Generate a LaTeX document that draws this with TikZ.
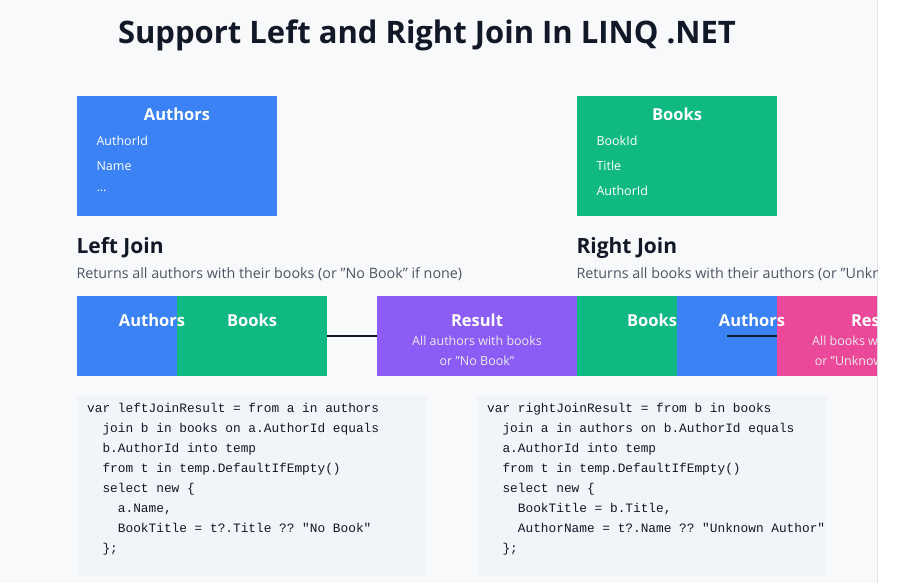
\documentclass[tikz,border=0pt]{standalone}
\usepackage{fontspec}
\setmainfont{Open Sans}
\setmonofont{Liberation Mono}
\usetikzlibrary{positioning}
\definecolor{bg}{HTML}{F8F9FB}
\definecolor{ink}{HTML}{111827}
\definecolor{gray}{HTML}{4B5563}
\definecolor{blue}{HTML}{3B82F6}
\definecolor{green}{HTML}{10B981}
\definecolor{purple}{HTML}{8B5CF6}
\definecolor{pink}{HTML}{EC4899}
\definecolor{codebg}{HTML}{F1F5F9}
\tikzset{
  tbl/.style={minimum width=200pt,minimum height=120pt,anchor=north west,inner sep=0pt},
  part/.style={minimum width=150pt,minimum height=80pt,anchor=north west,inner sep=0pt},
  res/.style={minimum width=200pt,minimum height=80pt,anchor=north west,inner sep=0pt},
  head/.style={text=white,font=\bfseries\fontsize{16.5}{18}\selectfont},
  item/.style={text=white,anchor=west,font=\fontsize{12.5}{14}\selectfont},
  sub/.style={text=white!92!black,align=center,font=\fontsize{12.5}{20}\selectfont},
  code/.style={anchor=north west,align=left,text=ink,inner sep=0pt,font=\ttfamily\fontsize{12.8}{20}\selectfont}
}
\begin{document}
\begin{tikzpicture}[x=1pt,y=-1pt]
\useasboundingbox (0,0) rectangle (898,583);
\fill[bg] (0,0) rectangle (877,583);
\draw[black!10] (877,0) -- (877,583);
% title
\node (title) [text=ink,font=\bfseries\fontsize{31}{34}\selectfont] at (427,35) {Support Left and Right Join In LINQ .NET};
% tables
\node (authors) [tbl,fill=blue] at (77,96) {};
\node [head] at (177,114) {Authors};
\node [item] at (93,141) {AuthorId};
\node [item] at (93,166) {Name};
\node [item] at (93,191) {...};
\node (books) [tbl,fill=green] at (577,96) {};
\node [head] at (677,114) {Books};
\node [item] at (593,141) {BookId};
\node [item] at (593,166) {Title};
\node [item] at (593,191) {AuthorId};
% left join
\node (lj) [anchor=west,text=ink,font=\bfseries\fontsize{21}{24}\selectfont] at (73,248) {Left Join};
\node (ljtext) [anchor=west,text=gray,font=\fontsize{14.3}{16}\selectfont] at (73,274) {Returns all authors with their books (or "No Book" if none)};
\node (la) [part,fill=blue] at (77,296) {};
\node (lb) [part,fill=green] at (177,296) {};
\node [head] at (152,320) {Authors};
\node [head] at (252,320) {Books};
\node (lr) [res,fill=purple] at (377,296) {};
\draw[ink,line width=1.5pt] (lb.east) -- (lr.west);
\node [head] at (477,320) {Result};
\node [sub] at (477,351) {All authors with books\\or "No Book"};
% right join
\node (rj) [anchor=west,text=ink,font=\bfseries\fontsize{21}{24}\selectfont] at (573,248) {Right Join};
\begin{scope}
\clip (0,0) rectangle (877,583);
\node (rjtext) [anchor=west,text=gray,font=\fontsize{14.3}{16}\selectfont] at (573,274) {Returns all books with their authors (or "Unknown Author" if none)};
\node (rb) [part,fill=green] at (577,296) {};
\node (ra) [part,fill=blue] at (677,296) {};
\node (rr) [res,fill=pink] at (777,296) {};
\draw[ink,line width=1.5pt] (rb.east) -- (rr.west);
\node [head] at (652,320) {Books};
\node [head] at (752,320) {Authors};
\node [head] at (877,320) {Result};
\node [sub] at (877,351) {All books with authors\\or "Unknown Author"};
\end{scope}
\fill[white] (877.5,0) rectangle (898,583);
% code
\fill[codebg] (77,396) rectangle (427,576);
\fill[codebg] (477,396) rectangle (827,576);
\node (lcode) [code] at (87,403) {var leftJoinResult = from a in authors\\
\ \ join b in books on a.AuthorId equals\\
\ \ b.AuthorId into temp\\
\ \ from t in temp.DefaultIfEmpty()\\
\ \ select new \{\\
\ \ \ \ a.Name,\\
\ \ \ \ BookTitle = t?.Title ?? "No Book"\\
\ \ \};};
\node (rcode) [code] at (487,403) {var rightJoinResult = from b in books\\
\ \ join a in authors on b.AuthorId equals\\
\ \ a.AuthorId into temp\\
\ \ from t in temp.DefaultIfEmpty()\\
\ \ select new \{\\
\ \ \ \ BookTitle = b.Title,\\
\ \ \ \ AuthorName = t?.Name ?? "Unknown Author"\\
\ \ \};};
\end{tikzpicture}
\end{document}
